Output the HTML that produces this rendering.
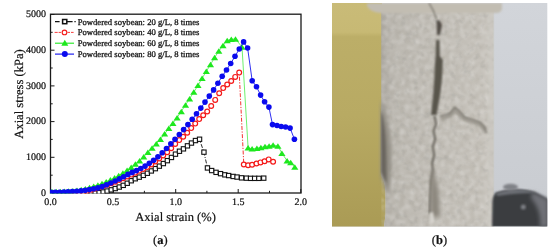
<!DOCTYPE html>
<html><head><meta charset="utf-8"><style>
html,body{margin:0;padding:0;background:#fff;}
svg{display:block;text-rendering:geometricPrecision;font-family:"Liberation Serif","Times New Roman",serif;}
text{stroke:#111;stroke-width:0.2px;}
.tk text{stroke-width:0.22px;}
.lg text{stroke-width:0.28px;}
</style></head><body>
<svg width="550" height="251" viewBox="0 0 550 251">
<rect width="550" height="251" fill="#fff"/>
<defs>
<linearGradient id="yel" x1="0" y1="0" x2="0" y2="1">
<stop offset="0" stop-color="#c9bb78"/><stop offset="0.13" stop-color="#c7b974"/><stop offset="0.15" stop-color="#bcae68"/>
<stop offset="0.5" stop-color="#b8aa63"/><stop offset="1" stop-color="#aa9b55"/></linearGradient>
<linearGradient id="cyl" x1="0" y1="0" x2="1" y2="0">
<stop offset="0" stop-color="#aaa69e"/><stop offset="0.1" stop-color="#b6b2aa"/><stop offset="0.5" stop-color="#bdb9b1"/>
<stop offset="0.88" stop-color="#c0bcb4"/><stop offset="1" stop-color="#c7c3bc"/></linearGradient>
<linearGradient id="rbg" x1="0" y1="0" x2="0" y2="1">
<stop offset="0" stop-color="#d2d5da"/><stop offset="1" stop-color="#c8cbd0"/></linearGradient>
<linearGradient id="dob" x1="0" y1="0" x2="0" y2="1">
<stop offset="0" stop-color="#6a6c73"/><stop offset="0.25" stop-color="#45474d"/><stop offset="1" stop-color="#36373c"/></linearGradient>
<linearGradient id="spg" x1="0" y1="0" x2="0" y2="1"><stop offset="0" stop-color="#98938b"/><stop offset="0.5" stop-color="#a6a299"/><stop offset="1" stop-color="#b3afa6" stop-opacity="0"/></linearGradient>
<linearGradient id="dobh" x1="493" y1="0" x2="548" y2="0" gradientUnits="userSpaceOnUse"><stop offset="0" stop-color="#5a5c62"/><stop offset="0.2" stop-color="#3c3d42"/><stop offset="0.6" stop-color="#3a3b40"/><stop offset="0.8" stop-color="#55575d"/><stop offset="1" stop-color="#7e8086"/></linearGradient>
<filter id="bl1" x="-20%" y="-20%" width="140%" height="140%"><feGaussianBlur stdDeviation="0.9"/></filter>
<filter id="bl2" x="-30%" y="-30%" width="160%" height="160%"><feGaussianBlur stdDeviation="2"/></filter>
<filter id="bl3" x="-30%" y="-30%" width="160%" height="160%"><feGaussianBlur stdDeviation="3.5"/></filter>
<filter id="tex" x="0" y="0" width="100%" height="100%"><feTurbulence type="fractalNoise" baseFrequency="0.2" numOctaves="2" seed="3" result="n"/>
<feColorMatrix in="n" type="matrix" values="0 0 0 0 1  0 0 0 0 1  0 0 0 0 1  0 0 0 -1.6 1.05" result="w"/>
<feGaussianBlur stdDeviation="0.8"/><feComposite in2="SourceGraphic" operator="in"/></filter>
<filter id="tex2" x="0" y="0" width="100%" height="100%"><feTurbulence type="fractalNoise" baseFrequency="0.16" numOctaves="2" seed="8" result="n"/>
<feColorMatrix in="n" type="matrix" values="0 0 0 0 0.3  0 0 0 0 0.3  0 0 0 0 0.28  0 0 0 1.8 -0.95" result="w"/>
<feGaussianBlur stdDeviation="0.7"/><feComposite in2="SourceGraphic" operator="in"/></filter>
<clipPath id="pclip"><rect x="332" y="3" width="215.3" height="223.4"/></clipPath>
</defs>
<g clip-path="url(#pclip)">
<rect x="332" y="3" width="216" height="224" fill="url(#rbg)"/>
<path d="M332 3 H382 V176 Q386 182 385.6 200 L385.6 214 L384 227 H332 Z" fill="url(#yel)"/>
<path d="M381.2 10 H493.6 V227 H384 L385.6 214 L385.6 200 Q386 182 381.2 176 Z" fill="url(#cyl)"/>
<rect x="381.2" y="10" width="112.4" height="217" fill="#fff" opacity="0.4" filter="url(#tex)"/>
<rect x="381.2" y="10" width="112.4" height="217" fill="#000" opacity="0.4" filter="url(#tex2)"/>
<path d="M381.2 100 Q389 120 391 150 Q392 175 388 195 Q384 185 381.2 176 Z" fill="#8e8a81" filter="url(#bl2)"/>
<path d="M381.2 110 Q385.5 125 386 150 Q386.5 170 386.5 183 Q383 176 381.2 172 Z" fill="#6a665e" filter="url(#bl1)"/>
<rect x="488.5" y="12" width="5" height="215" fill="#cecbc5" opacity="0.55" filter="url(#bl1)"/>
<path d="M367 3 H502 V9 Q501 13 496 13 H381 Q370 12 367 6 Z" fill="#c2bdb2" filter="url(#bl1)"/>
<path d="M492 227 L492.4 205 Q492 196 496 192.5 Q505 189.5 515 189.5 Q528 189.5 535 192 L548 199 V227 Z" fill="#3b3c41" filter="url(#bl1)"/>
<path d="M495 194 Q505 189.5 516 189.5 Q528 189.5 535 193 Q520 192.5 498 196 Z" fill="#6c6e74" filter="url(#bl1)"/>
<ellipse cx="510.5" cy="187" rx="7.5" ry="3.2" fill="#808287" filter="url(#bl1)"/>
<path d="M532 192 L548 199 V227 L540 227 Q542 210 531 198 Z" fill="#6f7177" filter="url(#bl2)"/>
<circle cx="523.3" cy="207" r="2.5" fill="#7d7f84" filter="url(#bl1)"/>
<path d="M441 119 L449.7 116 L455 110.5 L464.6 119.3 L479.6 124.2 L485 130" stroke="#a29e95" stroke-width="4" fill="none" filter="url(#bl1)"/>
<path d="M440 116.5 L449.7 113.8 L454.7 107.6 L458 110 L464.6 117.3 L472 119.5 L479.6 122.2 L484.6 127.2 L486 133" stroke="#7f7b73" stroke-width="1.8" fill="none" filter="url(#bl1)"/>
<path d="M432 111.5 L449 110.5" stroke="#c9c5bd" stroke-width="1.5" fill="none" filter="url(#bl1)"/>
<path d="M429 3 L433 10 L436.5 19" stroke="#716d65" stroke-width="1.2" fill="none" filter="url(#bl1)"/>
<path d="M436.5 20 L440 21 L442 25 L440 35 L437 35 Z" fill="#524e47" filter="url(#bl1)"/>
<path d="M436.2 40 L439.4 40 L439.8 56 L442.8 60 L442.4 72 L441.4 85 L439.6 98 L437.8 108 L436.6 115 L431 115 L432.2 104 L433.4 92 L434.2 80 L434.8 66 L435.6 56 Z" fill="#58544c" filter="url(#bl1)"/>
<path d="M434.5 116 L436 124 L433.5 131 L435.2 139 L432.8 147 L434.2 155 L432.2 163 L432.8 171 L431.2 180 L430.6 192 L430.2 204 L430 214" stroke="#5a564e" stroke-width="1.7" fill="none" filter="url(#bl1)"/>
<path d="M431.5 168 L434 170 L438.5 192 L440 216 L431 218 L430.5 196 Z" fill="#8b867d" filter="url(#bl2)"/>
<path d="M429.5 213 L433 212 L434.5 222 L430 224 Z" fill="#d6d3cd" filter="url(#bl1)"/>
</g>


<defs><clipPath id="clip"><rect x="50" y="13" width="251.6" height="180.6"/></clipPath></defs>
<rect x="50.5" y="14.2" width="250.5" height="178.8" fill="none" stroke="#1a1a1a" stroke-width="1.3"/><path d="M50.5 193.0V189.0 M81.8 193.0V190.8 M113.1 193.0V189.0 M144.4 193.0V190.8 M175.7 193.0V189.0 M206.9 193.0V190.8 M238.2 193.0V189.0 M269.5 193.0V190.8 M300.8 193.0V189.0 M50.5 193.0H54.5 M50.5 175.2H52.7 M50.5 157.3H54.5 M50.5 139.4H52.7 M50.5 121.6H54.5 M50.5 103.8H52.7 M50.5 85.9H54.5 M50.5 68.0H52.7 M50.5 50.2H54.5 M50.5 32.3H52.7 M50.5 14.5H54.5" stroke="#1a1a1a" stroke-width="1" fill="none"/>
<g clip-path="url(#clip)"><polyline points="51.0,193.3 55.0,193.3 59.0,193.3 63.0,193.3 67.1,193.3 71.1,193.2 75.1,193.2 79.1,193.2 83.1,193.2 87.1,193.1 91.1,193.1 95.1,193.0 99.2,192.6 103.2,192.0 107.2,191.1 111.2,189.9 115.2,188.5 119.2,187.0 123.2,185.3 127.3,183.2 131.3,180.7 135.3,178.8 139.3,177.1 143.3,175.4 147.3,173.3 151.3,171.0 155.4,168.6 159.4,166.1 163.4,163.5 167.4,160.7 171.4,157.5 175.4,154.2 179.4,151.2 183.4,148.9 187.5,145.8 191.5,143.0 195.5,140.6 199.5,139.3 203.9,152.2 207.5,167.9 211.7,170.6 216.1,172.4 220.6,173.7 224.8,174.8 228.7,175.6 233.2,176.5 237.1,177.1 241.6,177.8 246.3,178.2 250.6,178.3 254.7,178.3 258.8,178.3 263.7,178.2" fill="none" stroke="#111" stroke-width="0.9" stroke-dasharray="4 1.5 1 1.5"/><g fill="#fff" stroke="#111" stroke-width="1.1"><rect x="48.9" y="191.1" width="4.3" height="4.3"/><rect x="52.9" y="191.1" width="4.3" height="4.3"/><rect x="56.9" y="191.1" width="4.3" height="4.3"/><rect x="60.9" y="191.1" width="4.3" height="4.3"/><rect x="64.9" y="191.1" width="4.3" height="4.3"/><rect x="68.9" y="191.1" width="4.3" height="4.3"/><rect x="72.9" y="191.1" width="4.3" height="4.3"/><rect x="76.9" y="191.0" width="4.3" height="4.3"/><rect x="81.0" y="191.0" width="4.3" height="4.3"/><rect x="85.0" y="191.0" width="4.3" height="4.3"/><rect x="89.0" y="190.9" width="4.3" height="4.3"/><rect x="93.0" y="190.8" width="4.3" height="4.3"/><rect x="97.0" y="190.5" width="4.3" height="4.3"/><rect x="101.0" y="189.8" width="4.3" height="4.3"/><rect x="105.0" y="188.9" width="4.3" height="4.3"/><rect x="109.1" y="187.7" width="4.3" height="4.3"/><rect x="113.1" y="186.4" width="4.3" height="4.3"/><rect x="117.1" y="184.9" width="4.3" height="4.3"/><rect x="121.1" y="183.2" width="4.3" height="4.3"/><rect x="125.1" y="181.1" width="4.3" height="4.3"/><rect x="129.1" y="178.6" width="4.3" height="4.3"/><rect x="133.1" y="176.6" width="4.3" height="4.3"/><rect x="137.1" y="175.0" width="4.3" height="4.3"/><rect x="141.2" y="173.2" width="4.3" height="4.3"/><rect x="145.2" y="171.1" width="4.3" height="4.3"/><rect x="149.2" y="168.8" width="4.3" height="4.3"/><rect x="153.2" y="166.5" width="4.3" height="4.3"/><rect x="157.2" y="164.0" width="4.3" height="4.3"/><rect x="161.2" y="161.4" width="4.3" height="4.3"/><rect x="165.2" y="158.5" width="4.3" height="4.3"/><rect x="169.3" y="155.3" width="4.3" height="4.3"/><rect x="173.3" y="152.0" width="4.3" height="4.3"/><rect x="177.3" y="149.1" width="4.3" height="4.3"/><rect x="181.3" y="146.7" width="4.3" height="4.3"/><rect x="185.3" y="143.7" width="4.3" height="4.3"/><rect x="189.3" y="140.9" width="4.3" height="4.3"/><rect x="193.3" y="138.4" width="4.3" height="4.3"/><rect x="197.4" y="137.1" width="4.3" height="4.3"/><rect x="201.8" y="150.0" width="4.3" height="4.3"/><rect x="205.3" y="165.8" width="4.3" height="4.3"/><rect x="209.5" y="168.4" width="4.3" height="4.3"/><rect x="213.9" y="170.2" width="4.3" height="4.3"/><rect x="218.4" y="171.5" width="4.3" height="4.3"/><rect x="222.7" y="172.7" width="4.3" height="4.3"/><rect x="226.5" y="173.4" width="4.3" height="4.3"/><rect x="231.0" y="174.3" width="4.3" height="4.3"/><rect x="234.9" y="174.9" width="4.3" height="4.3"/><rect x="239.4" y="175.7" width="4.3" height="4.3"/><rect x="244.2" y="176.0" width="4.3" height="4.3"/><rect x="248.4" y="176.2" width="4.3" height="4.3"/><rect x="252.5" y="176.2" width="4.3" height="4.3"/><rect x="256.7" y="176.2" width="4.3" height="4.3"/><rect x="261.6" y="176.0" width="4.3" height="4.3"/></g><polyline points="51.2,193.2 55.2,193.2 59.2,193.1 63.2,193.1 67.2,193.0 71.2,192.9 75.2,192.7 79.2,192.5 83.2,192.0 87.2,190.8 91.2,189.7 95.2,188.5 99.2,187.3 103.2,186.0 107.2,184.7 111.2,183.3 115.2,181.7 119.2,180.0 123.2,178.3 127.2,176.5 131.2,174.6 135.2,172.7 139.2,170.8 143.2,168.9 147.2,166.9 151.2,164.4 155.2,161.5 159.2,158.5 163.2,155.5 167.2,152.2 171.2,148.3 175.2,143.9 179.2,140.1 183.2,136.7 187.2,132.7 191.2,128.1 195.2,123.6 199.2,119.1 203.2,115.2 207.2,111.5 211.2,106.0 215.2,99.9 219.2,93.3 223.2,88.1 227.2,84.5 231.2,81.0 235.2,76.9 239.2,72.6 243.8,164.5 248.1,165.3 252.1,164.7 256.5,163.5 260.5,162.4 264.6,161.3 268.7,159.4 273.1,161.7" fill="none" stroke="#f41a1a" stroke-width="0.9" stroke-dasharray="4 1.5 1.2 1.5"/><g fill="#fff" stroke="#f41a1a" stroke-width="1.2"><circle cx="51.2" cy="193.2" r="2.4"/><circle cx="55.2" cy="193.2" r="2.4"/><circle cx="59.2" cy="193.1" r="2.4"/><circle cx="63.2" cy="193.1" r="2.4"/><circle cx="67.2" cy="193.0" r="2.4"/><circle cx="71.2" cy="192.9" r="2.4"/><circle cx="75.2" cy="192.7" r="2.4"/><circle cx="79.2" cy="192.5" r="2.4"/><circle cx="83.2" cy="192.0" r="2.4"/><circle cx="87.2" cy="190.8" r="2.4"/><circle cx="91.2" cy="189.7" r="2.4"/><circle cx="95.2" cy="188.5" r="2.4"/><circle cx="99.2" cy="187.3" r="2.4"/><circle cx="103.2" cy="186.0" r="2.4"/><circle cx="107.2" cy="184.7" r="2.4"/><circle cx="111.2" cy="183.3" r="2.4"/><circle cx="115.2" cy="181.7" r="2.4"/><circle cx="119.2" cy="180.0" r="2.4"/><circle cx="123.2" cy="178.3" r="2.4"/><circle cx="127.2" cy="176.5" r="2.4"/><circle cx="131.2" cy="174.6" r="2.4"/><circle cx="135.2" cy="172.7" r="2.4"/><circle cx="139.2" cy="170.8" r="2.4"/><circle cx="143.2" cy="168.9" r="2.4"/><circle cx="147.2" cy="166.9" r="2.4"/><circle cx="151.2" cy="164.4" r="2.4"/><circle cx="155.2" cy="161.5" r="2.4"/><circle cx="159.2" cy="158.5" r="2.4"/><circle cx="163.2" cy="155.5" r="2.4"/><circle cx="167.2" cy="152.2" r="2.4"/><circle cx="171.2" cy="148.3" r="2.4"/><circle cx="175.2" cy="143.9" r="2.4"/><circle cx="179.2" cy="140.1" r="2.4"/><circle cx="183.2" cy="136.7" r="2.4"/><circle cx="187.2" cy="132.7" r="2.4"/><circle cx="191.2" cy="128.1" r="2.4"/><circle cx="195.2" cy="123.6" r="2.4"/><circle cx="199.2" cy="119.1" r="2.4"/><circle cx="203.2" cy="115.2" r="2.4"/><circle cx="207.2" cy="111.5" r="2.4"/><circle cx="211.2" cy="106.0" r="2.4"/><circle cx="215.2" cy="99.9" r="2.4"/><circle cx="219.2" cy="93.3" r="2.4"/><circle cx="223.2" cy="88.1" r="2.4"/><circle cx="227.2" cy="84.5" r="2.4"/><circle cx="231.2" cy="81.0" r="2.4"/><circle cx="235.2" cy="76.9" r="2.4"/><circle cx="239.2" cy="72.6" r="2.4"/><circle cx="243.8" cy="164.5" r="2.4"/><circle cx="248.1" cy="165.3" r="2.4"/><circle cx="252.1" cy="164.7" r="2.4"/><circle cx="256.5" cy="163.5" r="2.4"/><circle cx="260.5" cy="162.4" r="2.4"/><circle cx="264.6" cy="161.3" r="2.4"/><circle cx="268.7" cy="159.4" r="2.4"/><circle cx="273.1" cy="161.7" r="2.4"/></g><polyline points="52.0,191.6 56.2,191.5 60.3,191.4 64.5,191.2 68.7,191.0 72.9,190.8 77.0,190.4 81.2,189.6 85.4,188.6 89.5,187.4 93.7,186.2 97.9,185.0 102.0,183.5 106.2,181.7 110.4,179.8 114.6,177.8 118.7,175.5 122.9,173.1 127.1,170.3 131.2,167.2 135.4,163.9 139.6,160.6 143.7,156.8 147.9,152.4 152.1,148.0 156.3,143.7 160.4,139.2 164.6,133.9 168.8,128.4 172.9,123.1 177.1,117.6 181.3,111.4 185.5,105.0 189.6,98.6 193.8,92.1 198.0,85.3 202.1,78.3 206.3,71.4 210.5,64.5 214.6,57.6 218.8,51.1 223.0,45.5 227.2,40.5 231.3,39.3 235.5,39.0 242.0,47.0 248.1,147.8 252.1,148.8 256.9,148.2 260.9,147.5 265.0,146.4 269.1,145.9 273.1,145.0 277.9,145.9 281.9,153.2 287.1,160.8 290.7,162.4 294.8,167.1" fill="none" stroke="#1ee81e" stroke-width="0.65"/><g><path d="M52.0 188.8L55.6 194.3L48.4 194.3Z" fill="#1ee81e"/><path d="M56.2 188.8L59.8 194.3L52.6 194.3Z" fill="#1ee81e"/><path d="M60.3 188.7L63.9 194.2L56.7 194.2Z" fill="#1ee81e"/><path d="M64.5 188.5L68.1 194.0L60.9 194.0Z" fill="#1ee81e"/><path d="M68.7 188.3L72.3 193.8L65.1 193.8Z" fill="#1ee81e"/><path d="M72.9 188.0L76.5 193.5L69.3 193.5Z" fill="#1ee81e"/><path d="M77.0 187.6L80.6 193.1L73.4 193.1Z" fill="#1ee81e"/><path d="M81.2 186.8L84.8 192.3L77.6 192.3Z" fill="#1ee81e"/><path d="M85.4 185.9L89.0 191.4L81.8 191.4Z" fill="#1ee81e"/><path d="M89.5 184.7L93.1 190.2L85.9 190.2Z" fill="#1ee81e"/><path d="M93.7 183.5L97.3 189.0L90.1 189.0Z" fill="#1ee81e"/><path d="M97.9 182.2L101.5 187.7L94.3 187.7Z" fill="#1ee81e"/><path d="M102.0 180.8L105.6 186.3L98.4 186.3Z" fill="#1ee81e"/><path d="M106.2 179.0L109.8 184.5L102.6 184.5Z" fill="#1ee81e"/><path d="M110.4 177.1L114.0 182.6L106.8 182.6Z" fill="#1ee81e"/><path d="M114.6 175.0L118.2 180.5L111.0 180.5Z" fill="#1ee81e"/><path d="M118.7 172.8L122.3 178.3L115.1 178.3Z" fill="#1ee81e"/><path d="M122.9 170.3L126.5 175.8L119.3 175.8Z" fill="#1ee81e"/><path d="M127.1 167.6L130.7 173.1L123.5 173.1Z" fill="#1ee81e"/><path d="M131.2 164.4L134.8 169.9L127.6 169.9Z" fill="#1ee81e"/><path d="M135.4 161.2L139.0 166.7L131.8 166.7Z" fill="#1ee81e"/><path d="M139.6 157.9L143.2 163.4L136.0 163.4Z" fill="#1ee81e"/><path d="M143.7 154.1L147.3 159.6L140.1 159.6Z" fill="#1ee81e"/><path d="M147.9 149.6L151.5 155.1L144.3 155.1Z" fill="#1ee81e"/><path d="M152.1 145.2L155.7 150.7L148.5 150.7Z" fill="#1ee81e"/><path d="M156.3 141.0L159.9 146.5L152.7 146.5Z" fill="#1ee81e"/><path d="M160.4 136.4L164.0 141.9L156.8 141.9Z" fill="#1ee81e"/><path d="M164.6 131.1L168.2 136.6L161.0 136.6Z" fill="#1ee81e"/><path d="M168.8 125.6L172.4 131.1L165.2 131.1Z" fill="#1ee81e"/><path d="M172.9 120.4L176.5 125.9L169.3 125.9Z" fill="#1ee81e"/><path d="M177.1 114.9L180.7 120.4L173.5 120.4Z" fill="#1ee81e"/><path d="M181.3 108.7L184.9 114.2L177.7 114.2Z" fill="#1ee81e"/><path d="M185.5 102.3L189.1 107.8L181.9 107.8Z" fill="#1ee81e"/><path d="M189.6 95.9L193.2 101.4L186.0 101.4Z" fill="#1ee81e"/><path d="M193.8 89.3L197.4 94.8L190.2 94.8Z" fill="#1ee81e"/><path d="M198.0 82.5L201.6 88.0L194.4 88.0Z" fill="#1ee81e"/><path d="M202.1 75.6L205.7 81.1L198.5 81.1Z" fill="#1ee81e"/><path d="M206.3 68.6L209.9 74.1L202.7 74.1Z" fill="#1ee81e"/><path d="M210.5 61.7L214.1 67.2L206.9 67.2Z" fill="#1ee81e"/><path d="M214.6 54.8L218.2 60.3L211.0 60.3Z" fill="#1ee81e"/><path d="M218.8 48.3L222.4 53.8L215.2 53.8Z" fill="#1ee81e"/><path d="M223.0 42.7L226.6 48.2L219.4 48.2Z" fill="#1ee81e"/><path d="M227.2 37.7L230.8 43.2L223.6 43.2Z" fill="#1ee81e"/><path d="M231.3 36.5L234.9 42.0L227.7 42.0Z" fill="#1ee81e"/><path d="M235.5 36.2L239.1 41.8L231.9 41.8Z" fill="#1ee81e"/><path d="M242.0 44.2L245.6 49.8L238.4 49.8Z" fill="#1ee81e"/><path d="M248.1 145.1L251.7 150.6L244.5 150.6Z" fill="#1ee81e"/><path d="M252.1 146.1L255.7 151.6L248.5 151.6Z" fill="#1ee81e"/><path d="M256.9 145.4L260.5 150.9L253.3 150.9Z" fill="#1ee81e"/><path d="M260.9 144.8L264.5 150.2L257.3 150.2Z" fill="#1ee81e"/><path d="M265.0 143.7L268.6 149.2L261.4 149.2Z" fill="#1ee81e"/><path d="M269.1 143.2L272.7 148.7L265.5 148.7Z" fill="#1ee81e"/><path d="M273.1 142.2L276.7 147.8L269.5 147.8Z" fill="#1ee81e"/><path d="M277.9 143.2L281.5 148.7L274.3 148.7Z" fill="#1ee81e"/><path d="M281.9 150.4L285.5 155.9L278.3 155.9Z" fill="#1ee81e"/><path d="M287.1 158.1L290.7 163.6L283.5 163.6Z" fill="#1ee81e"/><path d="M290.7 159.7L294.3 165.2L287.1 165.2Z" fill="#1ee81e"/><path d="M294.8 164.3L298.4 169.8L291.2 169.8Z" fill="#1ee81e"/></g><polyline points="50.8,192.4 55.1,192.4 59.4,192.2 63.7,192.1 67.9,191.9 72.2,191.6 76.5,191.4 80.8,190.9 85.1,190.3 89.4,189.6 93.6,188.8 97.9,187.9 102.2,186.6 106.5,184.8 110.8,183.0 115.1,181.0 119.4,178.9 123.6,176.7 127.9,174.4 132.2,172.4 136.5,170.6 140.8,168.5 145.1,166.1 149.3,163.3 153.6,160.2 157.9,156.7 162.2,152.8 166.5,148.5 170.8,143.8 175.0,139.2 179.3,134.5 183.6,129.6 187.9,124.6 192.2,119.3 196.5,113.8 200.8,108.1 205.0,102.1 209.3,96.1 213.6,89.9 217.9,83.2 222.2,76.3 226.5,70.0 230.7,63.5 235.0,56.3 239.3,49.0 243.6,41.9 247.6,48.0 252.2,80.8 256.5,86.7 260.6,95.1 264.6,101.8 268.9,107.1 272.5,124.6 277.0,125.5 281.2,126.5 285.6,127.0 290.1,128.1 294.4,139.2" fill="none" stroke="#0a0aee" stroke-width="0.85"/><g fill="#0a0aee"><circle cx="50.8" cy="192.4" r="2.8"/><circle cx="55.1" cy="192.4" r="2.8"/><circle cx="59.4" cy="192.2" r="2.8"/><circle cx="63.7" cy="192.1" r="2.8"/><circle cx="67.9" cy="191.9" r="2.8"/><circle cx="72.2" cy="191.6" r="2.8"/><circle cx="76.5" cy="191.4" r="2.8"/><circle cx="80.8" cy="190.9" r="2.8"/><circle cx="85.1" cy="190.3" r="2.8"/><circle cx="89.4" cy="189.6" r="2.8"/><circle cx="93.6" cy="188.8" r="2.8"/><circle cx="97.9" cy="187.9" r="2.8"/><circle cx="102.2" cy="186.6" r="2.8"/><circle cx="106.5" cy="184.8" r="2.8"/><circle cx="110.8" cy="183.0" r="2.8"/><circle cx="115.1" cy="181.0" r="2.8"/><circle cx="119.4" cy="178.9" r="2.8"/><circle cx="123.6" cy="176.7" r="2.8"/><circle cx="127.9" cy="174.4" r="2.8"/><circle cx="132.2" cy="172.4" r="2.8"/><circle cx="136.5" cy="170.6" r="2.8"/><circle cx="140.8" cy="168.5" r="2.8"/><circle cx="145.1" cy="166.1" r="2.8"/><circle cx="149.3" cy="163.3" r="2.8"/><circle cx="153.6" cy="160.2" r="2.8"/><circle cx="157.9" cy="156.7" r="2.8"/><circle cx="162.2" cy="152.8" r="2.8"/><circle cx="166.5" cy="148.5" r="2.8"/><circle cx="170.8" cy="143.8" r="2.8"/><circle cx="175.0" cy="139.2" r="2.8"/><circle cx="179.3" cy="134.5" r="2.8"/><circle cx="183.6" cy="129.6" r="2.8"/><circle cx="187.9" cy="124.6" r="2.8"/><circle cx="192.2" cy="119.3" r="2.8"/><circle cx="196.5" cy="113.8" r="2.8"/><circle cx="200.8" cy="108.1" r="2.8"/><circle cx="205.0" cy="102.1" r="2.8"/><circle cx="209.3" cy="96.1" r="2.8"/><circle cx="213.6" cy="89.9" r="2.8"/><circle cx="217.9" cy="83.2" r="2.8"/><circle cx="222.2" cy="76.3" r="2.8"/><circle cx="226.5" cy="70.0" r="2.8"/><circle cx="230.7" cy="63.5" r="2.8"/><circle cx="235.0" cy="56.3" r="2.8"/><circle cx="239.3" cy="49.0" r="2.8"/><circle cx="243.6" cy="41.9" r="2.8"/><circle cx="247.6" cy="48.0" r="2.8"/><circle cx="252.2" cy="80.8" r="2.8"/><circle cx="256.5" cy="86.7" r="2.8"/><circle cx="260.6" cy="95.1" r="2.8"/><circle cx="264.6" cy="101.8" r="2.8"/><circle cx="268.9" cy="107.1" r="2.8"/><circle cx="272.5" cy="124.6" r="2.8"/><circle cx="277.0" cy="125.5" r="2.8"/><circle cx="281.2" cy="126.5" r="2.8"/><circle cx="285.6" cy="127.0" r="2.8"/><circle cx="290.1" cy="128.1" r="2.8"/><circle cx="294.4" cy="139.2" r="2.8"/></g></g>
<g class="tk" font-size="10" fill="#111"><text x="50.5" y="205.2" text-anchor="middle">0.0</text><text x="113.1" y="205.2" text-anchor="middle">0.5</text><text x="175.7" y="205.2" text-anchor="middle">1.0</text><text x="238.2" y="205.2" text-anchor="middle">1.5</text><text x="300.8" y="205.2" text-anchor="middle">2.0</text><text x="46.1" y="195.8" text-anchor="end">0</text><text x="46.1" y="160.1" text-anchor="end">1000</text><text x="46.1" y="124.4" text-anchor="end">2000</text><text x="46.1" y="88.7" text-anchor="end">3000</text><text x="46.1" y="53.0" text-anchor="end">4000</text><text x="46.1" y="17.3" text-anchor="end">5000</text></g>
<g class="lg" fill="#111"><path d="M55 21.6H59.6M67 21.6H72.6M74.4 21.6H75.7" stroke="#111" stroke-width="1.1"/><rect x="62.6" y="19.5" width="4.2" height="4.2" fill="#fff" stroke="#111" stroke-width="1.5"/><text x="77.7" y="24.6" font-size="8.65">Powdered soybean: 20 g/L, 8 times</text><path d="M54.6 32.4H57.7M58.6 32.4H61.2M67.4 32.4H70M71 32.4H73.6" stroke="#f41a1a" stroke-width="0.85"/><circle cx="64.5" cy="32.4" r="2.3" fill="#fff" stroke="#f41a1a" stroke-width="1.1"/><text x="77.7" y="35.4" font-size="8.65">Powdered soybean: 40 g/L, 8 times</text><path d="M55 43.2H74" stroke="#1ee81e" stroke-width="1.1"/><path d="M64.8 39.7L68.3 45.7L61.3 45.7Z" fill="#1ee81e"/><text x="77.7" y="46.2" font-size="8.65">Powdered soybean: 60 g/L, 8 times</text><path d="M55 54.1H74" stroke="#0a0aee" stroke-width="1.1"/><circle cx="64.8" cy="54.1" r="3.0" fill="#0a0aee"/><text x="77.7" y="57.1" font-size="8.65">Powdered soybean: 80 g/L, 8 times</text></g>
<text x="175.6" y="221.1" font-size="12.5" text-anchor="middle" fill="#111">Axial strain (%)</text>
<text transform="translate(23.2 94) rotate(-90)" font-size="12.6" text-anchor="middle" fill="#111">Axial stress (kPa)</text>
<text x="160.3" y="244.4" font-size="12.5" text-anchor="middle" fill="#111">(<tspan font-weight="bold">a</tspan>)</text>
<text x="439.4" y="244.4" font-size="12.5" text-anchor="middle" fill="#111">(<tspan font-weight="bold">b</tspan>)</text>

</svg>
</body></html>
